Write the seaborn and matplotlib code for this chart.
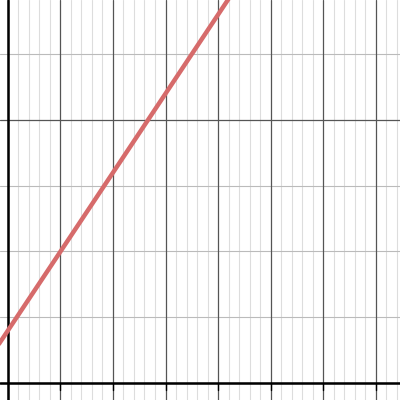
import matplotlib
matplotlib.use("Agg")
import matplotlib.pyplot as plt
import numpy as np
import pandas as pd
import seaborn as sns

# line samples
line_x = [-1, 0, 5, 10, 15, 20, 25]
line_y = [2.8, 4, 10, 16, 22, 28, 34]

x_range = (-0.76, 37.33)
y_range = (-1.29, 29.12)

sns.set_style("white")
fig = plt.figure(figsize=(4, 4), dpi=100)
ax = fig.add_axes([0, 0, 1, 1])

# grid
for x in np.arange(0, 38, 1):
    if x % 5 == 0:
        ax.axvline(x, color="#555555", lw=0.9, zorder=1)
    else:
        ax.axvline(x, color="#dddddd", lw=0.8, zorder=0)
for y in np.arange(0, 30, 5):
    if y % 20 == 0:
        ax.axhline(y, color="#555555", lw=0.9, zorder=1)
    else:
        ax.axhline(y, color="#bbbbbb", lw=0.8, zorder=0)

ax.axvline(0, color="black", lw=1.8, zorder=2)
ax.axhline(0, color="black", lw=1.8, zorder=2)

df = pd.DataFrame({"x": line_x, "y": line_y})
sns.lineplot(data=df, x="x", y="y", color="#d66b6b", lw=3.2, ax=ax, zorder=3)

# small tick marks on the axes
for x in np.arange(5, 38, 5):
    ax.plot([x, x], [0, -0.5], color="black", lw=1, zorder=2)

ax.set_xlim(*x_range)
ax.set_ylim(*y_range)
ax.set_xticks([])
ax.set_yticks([])
ax.set_xlabel("")
ax.set_ylabel("")
for s in ax.spines.values():
    s.set_visible(False)

fig.savefig("out.png", dpi=100)
